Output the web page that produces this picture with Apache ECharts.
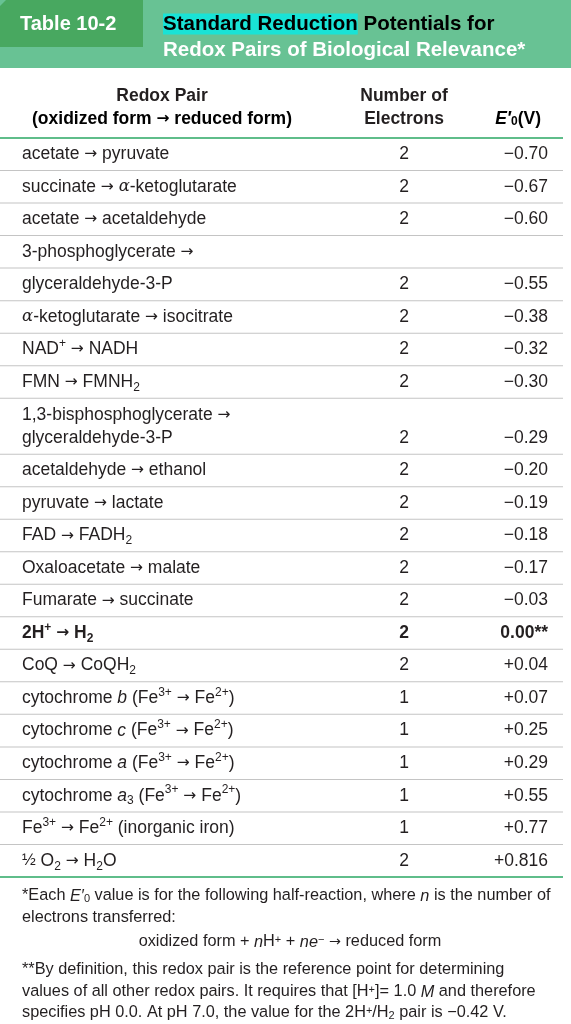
<!DOCTYPE html>
<html><head><meta charset="utf-8">
<script src="https://cdn.jsdelivr.net/npm/echarts@6/dist/echarts.min.js"></script>
<style>html,body{margin:0;padding:0;background:#fff}#c{width:571px;height:1024px}</style>
</head><body><div id="c"></div>
<script>
// ---- data ----
const pairs = [
  'acetate → pyruvate',
  'succinate → {i|α}-ketoglutarate',
  'acetate → acetaldehyde',
  '3-phosphoglycerate →',
  'glyceraldehyde-3-P',
  '{i|α}-ketoglutarate → isocitrate',
  'NAD{sup|+} → NADH',
  'FMN → FMNH{sub|2}',
  '1,3-bisphosphoglycerate →\nglyceraldehyde-3-P',
  'acetaldehyde → ethanol',
  'pyruvate → lactate',
  'FAD → FADH{sub|2}',
  'Oxaloacetate → malate',
  'Fumarate → succinate',
  '{b|2H}{bsup|+}{b| }{ba|→}{b| H}{bsub|2}',
  'CoQ → CoQH{sub|2}',
  'cytochrome {it|b} (Fe{sup|3+} → Fe{sup|2+})',
  'cytochrome {it|c} (Fe{sup|3+} → Fe{sup|2+})',
  'cytochrome {it|a} (Fe{sup|3+} → Fe{sup|2+})',
  'cytochrome {it|a}{sub|3} (Fe{sup|3+} → Fe{sup|2+})',
  'Fe{sup|3+} → Fe{sup|2+} (inorganic iron)',
  '{frac|½} O{sub|2} → H{sub|2}O'
];
const electrons = ['2','2','2','','2','2','2','2','2','2','2','2','2','2','2','2','1','1','1','1','1','2'];
const potentials = ['−0.70','−0.67','−0.60','','−0.55','−0.38','−0.32','−0.30','−0.29','−0.20','−0.19','−0.18','−0.17','−0.03','0.00**','+0.04','+0.07','+0.25','+0.29','+0.55','+0.77','+0.816'];
const lineCounts = [1,1,1,1,1,1,1,1,2,1,1,1,1,1,1,1,1,1,1,1,1,1];
const boldRow = 14;

// ---- layout ----
const units = lineCounts.map(n => n === 2 ? 1.72 : 1);
const cum = []; let acc = 0; units.forEach(u => { cum.push(acc); acc += u; });
const total = acc;
const FONT = '"Liberation Sans", Arial, sans-serif';
const AFONT = '"DejaVu Sans", sans-serif';
const INK = '#231f20';
const FS = 17.5;
const rich = {
  i: {fontFamily:'"DejaVu Serif", serif', fontStyle:'italic', fontSize:FS-1, color:INK},
  it: {fontFamily:FONT, fontStyle:'italic', fontSize:FS, color:INK},
  a: {fontFamily:AFONT, fontSize:FS-2, color:INK},
  ba: {fontFamily:AFONT, fontWeight:'bold', fontSize:FS-2, color:INK},
  sup: {fontFamily:FONT, fontSize:12, color:INK, verticalAlign:'top', lineHeight:12},
  sub: {fontFamily:FONT, fontSize:12, color:INK, verticalAlign:'bottom', lineHeight:12, padding:[10,0,0,0]},
  b: {fontFamily:FONT, fontWeight:'bold', fontSize:FS, color:INK},
  bsup: {fontFamily:FONT, fontWeight:'bold', fontSize:12, color:INK, verticalAlign:'top', lineHeight:12},
  bsub: {fontFamily:FONT, fontWeight:'bold', fontSize:12, color:INK, verticalAlign:'bottom', lineHeight:12, padding:[10,0,0,0]},
  frac: {fontFamily:FONT, fontSize:FS-1, color:INK}
};
const arrow = s => s.replace(/ → /g, ' {a|→} ').replace(/ →$/, ' {a|→}').replace(/ →\n/, ' {a|→}\n');

const FN = 16.3;
const fnRich = {
  e:{fontFamily:FONT,fontStyle:'italic',fontSize:FN,color:INK},
  s:{fontFamily:FONT,fontSize:11,color:INK,verticalAlign:'bottom',lineHeight:10,padding:[8,0,0,0]},
  p:{fontFamily:FONT,fontSize:11,color:INK,verticalAlign:'top',lineHeight:10},
  a:{fontFamily:AFONT,fontSize:FN-2,color:INK}
};
const fnText = (x,y,text,align) => ({type:'text',style:{x:x,y:y,align:align||'left',verticalAlign:'middle',text:text,rich:fnRich,font:FN+'px '+FONT,fill:INK}});

const chart = echarts.init(document.getElementById('c'), null, {renderer:'canvas'});
chart.setOption({
  animation:false,
  grid:{left:0,right:0,top:138,bottom:147},
  xAxis:{type:'value',min:0,max:571,show:false},
  yAxis:{type:'value',min:0,max:total,inverse:true,show:false},
  graphic:[
    {type:'rect',shape:{x:0,y:0,width:571,height:68},style:{fill:'#68c294'}},
    {type:'polygon',shape:{points:[[6,0],[143,0],[143,47],[0,47],[0,6]]},style:{fill:'#48a860'}},
    {type:'text',style:{x:20,y:24,text:'Table 10-2',fill:'#fff',font:'bold 20px '+FONT,verticalAlign:'middle'}},
    {type:'text',style:{x:163,y:24,verticalAlign:'middle',
      text:'{hl|Standard Reduction}{w| Potentials for}',
      rich:{hl:{backgroundColor:'#19e3d6',color:'#7ffcff',fontWeight:'bold',fontSize:20.5,fontFamily:FONT},
            w:{color:'#fff',fontWeight:'bold',fontSize:20.5,fontFamily:FONT}}}},
    {type:'text',style:{x:163,y:50,text:'Redox Pairs of Biological Relevance*',fill:'#fff',font:'bold 20.5px '+FONT,verticalAlign:'middle'}},
    {type:'text',style:{x:162,y:96,text:'Redox Pair',fill:INK,font:'bold 17.5px '+FONT,align:'center',verticalAlign:'middle'}},
    {type:'text',style:{x:162,y:119,align:'center',verticalAlign:'middle',text:'{b|(oxidized form }{ba|→}{b| reduced form)}',
      rich:{b:{fontFamily:FONT,fontWeight:'bold',fontSize:17.5,color:INK},ba:{fontFamily:AFONT,fontWeight:'bold',fontSize:15.5,color:INK}}}},
    {type:'text',style:{x:404,y:96,text:'Number of',fill:INK,font:'bold 17.5px '+FONT,align:'center',verticalAlign:'middle'}},
    {type:'text',style:{x:404,y:119,text:'Electrons',fill:INK,font:'bold 17.5px '+FONT,align:'center',verticalAlign:'middle'}},
    {type:'text',style:{x:541,y:119,align:'right',verticalAlign:'middle',text:'{e|E′}{s|0}{n|(V)}',
      rich:{e:{fontFamily:FONT,fontWeight:'bold',fontStyle:'italic',fontSize:17.5,color:INK},
            s:{fontFamily:FONT,fontWeight:'bold',fontSize:12,color:INK,verticalAlign:'bottom',lineHeight:12,padding:[10,0,0,0]},
            n:{fontFamily:FONT,fontWeight:'bold',fontSize:17.5,color:INK}}}},
    {type:'rect',shape:{x:0,y:137,width:563,height:2},style:{fill:'#5fbd8a'}},
    fnText(22,896,'*Each {e|E′}{s|0} value is for the following half-reaction, where {e|n} is the number of'),
    fnText(22,918,'electrons transferred:'),
    fnText(290,942,'oxidized form + {e|n}H{p|+} + {e|ne}{p|−} {a|→} reduced form','center'),
    fnText(22,970,'**By definition, this redox pair is the reference point for determining'),
    fnText(22,992,'values of all other redox pairs. It requires that [H{p|+}]= 1.0 {e|M} and therefore'),
    fnText(22,1013,'specifies pH 0.0. At pH 7.0, the value for the 2H{p|+}/H{s|2} pair is −0.42 V.')
  ],
  series:[{
    type:'custom',
    data: pairs.map((p,i)=>[i]),
    renderItem:(params, api)=>{
      const i = params.dataIndex;
      const top = api.coord([0, cum[i]])[1];
      const bot = api.coord([0, cum[i]+units[i]])[1];
      const mid = (top+bot)/2;
      const xL = api.coord([22,0])[0], xN = api.coord([404,0])[0], xE = api.coord([548,0])[0];
      const last = i === pairs.length-1;
      const bold = i === boldRow;
      const two = lineCounts[i] === 2;
      const valY = two ? mid + 11.5 : mid;
      const fnt = (bold?'bold ':'') + FS + 'px ' + FONT;
      return {type:'group', children:[
        {type:'rect', shape:{x:0,y:bot-(last?1:0.5),width:563,height:last?2:1}, style:{fill: last?'#5fbd8a':'#c4c4c4'}},
        {type:'text', style:{x:xL, y:mid, text:arrow(pairs[i]), font:fnt, fill:INK, verticalAlign:'middle', lineHeight:23, rich:rich}},
        {type:'text', style:{x:xN, y:valY, text:electrons[i], font:fnt, fill:INK, align:'center', verticalAlign:'middle'}},
        {type:'text', style:{x:xE, y:valY, text:potentials[i], font:fnt, fill:INK, align:'right', verticalAlign:'middle'}}
      ]};
    }
  }]
});
</script></body></html>
